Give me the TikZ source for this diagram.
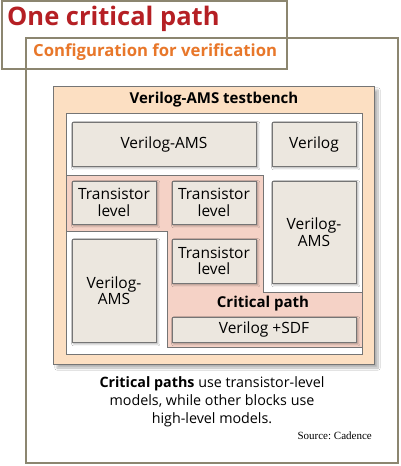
\documentclass[tikz,border=0pt]{standalone}
\usepackage{fontspec}
\setmainfont{Open Sans}
\newfontfamily\srcfont{Liberation Serif}
\usetikzlibrary{shadows.blur}
\definecolor{titlered}{HTML}{B51F24}
\definecolor{cfgorange}{HTML}{E8772A}
\definecolor{framecol}{HTML}{8C8670}
\definecolor{peach}{HTML}{FCDFC2}
\definecolor{pinkfill}{HTML}{F5D2C6}
\definecolor{boxfill}{HTML}{ECE7DF}
\definecolor{boxline}{HTML}{757575}
\tikzset{
  framebox/.style={draw=framecol, line width=2pt},
  gbox/.style={draw=boxline, fill=boxfill, line width=0.9pt, inner sep=0pt,
    align=center, font=\fontsize{15.5}{16.5}\selectfont,
    blur shadow={shadow xshift=1.8pt, shadow yshift=-1.8pt, shadow blur steps=6, shadow opacity=35}},
  lbl/.style={inner sep=0pt, font=\fontsize{15}{16}\bfseries\selectfont},
}
\frenchspacing
\begin{document}
\begin{tikzpicture}[x=1pt,y=-1pt]
\useasboundingbox (0,0) rectangle (400,466);
\fill[white] (0,0) rectangle (400,466);
% frames
\draw[framebox] (2,1) rectangle (287,69);
\draw[framebox] (26,38) rectangle (398,463);
\node[anchor=west, inner sep=0pt, text=titlered, font=\fontsize{25.5}{27}\bfseries\selectfont] (title) at (7,19) {One critical path};
\node[anchor=west, inner sep=0pt, text=cfgorange, font=\fontsize{16.7}{18}\bfseries\selectfont] (cfg) at (33,52) {Configuration for verification};
% testbench
\path[fill=peach, draw=boxline, line width=0.9pt,
  blur shadow={shadow xshift=4pt, shadow yshift=-4pt, shadow blur steps=10, shadow opacity=30}]
  (53,86) rectangle (374,364);
\node[lbl] (tb) at (214,100) {Verilog-AMS testbench};
\draw[fill=white, draw=boxline, line width=0.9pt] (66,113) rectangle (362,354);
% critical path region
\draw[fill=pinkfill, draw=boxline, line width=0.9pt]
  (66,175) -- (263,175) -- (263,292) -- (362,292) -- (362,347) -- (167,347) -- (167,231) -- (66,231) -- cycle;
% boxes
\node[gbox, minimum width=184pt, minimum height=44pt] (vamsTop) at (164,144) {Verilog-AMS};
\node[gbox, minimum width=84pt, minimum height=44pt] (vlog) at (314,144) {Verilog};
\node[gbox, minimum width=84pt, minimum height=43pt] (tl1) at (114,202.5) {Transistor\\level};
\node[gbox, minimum width=84pt, minimum height=43pt] (tl2) at (214,202.5) {Transistor\\level};
\node[gbox, minimum width=84pt, minimum height=44pt] (tl3) at (214,261) {Transistor\\level};
\node[gbox, minimum width=84pt, minimum height=102pt] (vamsR) at (314,232) {Verilog-\\AMS};
\node[gbox, minimum width=84pt, minimum height=103pt] (vamsL) at (114,290.5) {Verilog-\\AMS};
\node[lbl] (cp) at (263,304) {Critical path};
\node[gbox, minimum width=184pt, minimum height=25pt] (sdf) at (264,329.5) {Verilog +SDF};
% caption
\node[inner sep=0pt, align=center, font=\fontsize{14.3}{18}\selectfont] (cap) at (212,402)
  {\textbf{Critical paths} use transistor-level\\models, while other blocks use\\high-level models.};
\node[anchor=east, inner sep=0pt, font=\srcfont\fontsize{11}{12}\selectfont] (src) at (372,436) {Source: Cadence};
\end{tikzpicture}
\end{document}
